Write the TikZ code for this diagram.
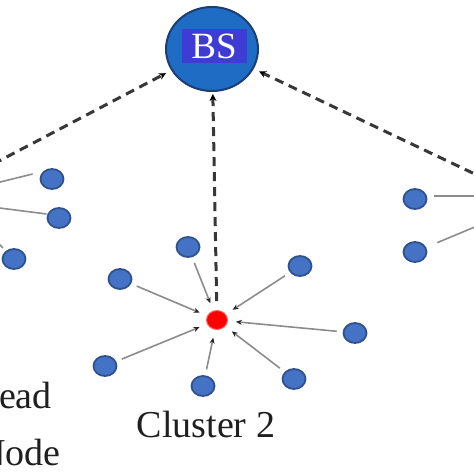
\documentclass[tikz,border=0pt]{standalone}
\usepackage{fontspec}
\setmainfont{Liberation Serif}
\usetikzlibrary{shapes.geometric,arrows.meta}
\definecolor{nodeblue}{RGB}{68,114,196}
\definecolor{nodeedge}{RGB}{47,82,143}
\definecolor{bsblue}{RGB}{30,108,196}
\definecolor{bsedge}{RGB}{28,62,115}
\definecolor{bsrect}{RGB}{62,60,212}
\definecolor{linkgray}{RGB}{140,140,140}
\definecolor{dashgray}{RGB}{55,55,55}
\tikzset{
  member/.style={ellipse, draw=nodeedge, line width=1.8pt, fill=nodeblue,
    minimum width=23pt, minimum height=20pt, inner sep=0pt},
  headnode/.style={ellipse, fill=red, draw=red!60, line width=1pt,
    minimum width=21pt, minimum height=19pt, inner sep=0pt},
  bsnode/.style={ellipse, draw=bsedge, line width=2pt, fill=bsblue,
    minimum width=92pt, minimum height=84pt, inner sep=0pt},
  link/.style={draw=linkgray, line width=1.6pt, shorten <=6pt, shorten >=8pt,
    -{Stealth[length=6pt,width=5pt,color=black!85]}},
  plainlink/.style={draw=linkgray, line width=1.6pt},
  uplink/.style={draw=dashgray, line width=3pt, dash pattern=on 9pt off 6pt,
    -{Stealth[length=7pt,width=7pt,color=black]}},
  lbl/.style={font=\fontsize{38}{44}\selectfont, text=black!88, inner sep=0pt}
}
\begin{document}
\begin{tikzpicture}[x=1pt,y=-1pt]
\path[use as bounding box] (0,0) rectangle (474,474);
\clip (0,0) rectangle (474,474);
\fill[white] (0,0) rectangle (474,474);

% base station
\node[bsnode] (bs) at (212,49) {};
\node[fill=bsrect, minimum width=65pt, minimum height=34pt, inner sep=0pt,
  text=white, font=\fontsize{37}{37}\selectfont] (bslabel) at (214,46) {BS};

% cluster 2
\node[headnode] (ch) at (217,320) {};
\node[member] (m1) at (188,247) {};
\node[member] (m2) at (120,279) {};
\node[member] (m3) at (300,266) {};
\node[member] (m4) at (355,333) {};
\node[member] (m5) at (105,366) {};
\node[member] (m6) at (203,386) {};
\node[member] (m7) at (294,379) {};
\foreach \m in {m1,m2,m3,m4,m5,m6,m7}
  \draw[link] (\m) -- (ch);

% left cluster (partly outside)
\node[member] (lm1) at (52,179) {};
\node[member] (lm2) at (59,218) {};
\node[member] (lm3) at (14,259) {};
\coordinate (lc1) at (-20,187);
\coordinate (lc2) at (-20,205.5);
\coordinate (lc3) at (-15,230);
\draw[plainlink] (lc1) -- ([xshift=-7pt,yshift=5pt]lm1.west);
\draw[plainlink] (lc2) -- ([yshift=4pt]lm2.west);
\draw[plainlink, shorten >=4pt] (lc3) -- (lm3);

% right cluster (partly outside)
\node[member] (rm1) at (415,199) {};
\node[member] (rm2) at (415,252) {};
\coordinate (rc1) at (490,196);
\coordinate (rc2) at (520,208);
\draw[plainlink, shorten <=7pt] ([yshift=3pt]rm1.east) -- (rc1);
\draw[plainlink, shorten <=12pt] (rm2) -- (rc2);

% links to the base station
\coordinate (ld) at (-20,171);
\coordinate (rd) at (500,186);
\draw[uplink, shorten >=6pt] (ld) -- (bs);
\draw[uplink, shorten >=6pt] (rd) -- (bs);
\draw[uplink, shorten <=9pt, shorten >=2pt] (ch) -- (bs);

% labels (partly cut off at the left edge, as in the original)
\node[lbl, anchor=base] (c2) at (206,437) {Cluster 2};
\node[lbl, anchor=base east] (hd) at (52,408) {Head};
\node[lbl, anchor=base east] (nd) at (61,465) {Node};
\end{tikzpicture}
\end{document}
